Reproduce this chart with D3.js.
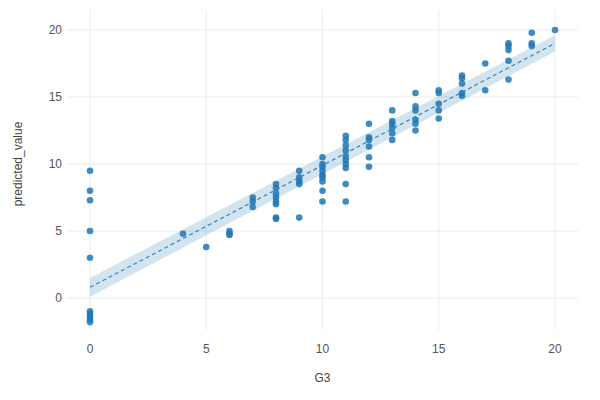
<!DOCTYPE html><html><head><script src="https://cdn.jsdelivr.net/npm/d3@7"></script>
<style>body{margin:0;background:#fff}text{font-family:"Helvetica Neue",Arial,"Liberation Sans",sans-serif}</style></head><body><svg id="c" width="600" height="400"></svg><script>
const xTicks=[0,5,10,15,20], yTicks=[0,5,10,15,20];
const groupsX=[0,4,5,6,7,8,9,10,11,12,13,14,15,16,17,18,19,20];
const groupsY=[[9.5,8,7.3,5,3,-1,-1.2,-1.4,-1.6,-1.8],[4.8],[3.8],[5,4.8,4.7],[7.5,7.2,6.8],[8.5,8.2,7.8,7.5,7.2,7.0,6.0,5.9],[9.5,9.0,8.7,8.5,6.0],[10.5,10,9.8,9.5,9.2,9.0,8.7,8.0,7.2],[12.1,11.8,11.4,11,10.6,10.3,10.0,9.7,8.5,7.2],[13,12,11.8,11.3,10.5,9.8],[14,13.2,13,12.7,12.3,11.8],[15.3,14.3,14.0,13.3,13.0,12.5],[15.5,15.3,14.5,14.0,13.4],[16.6,16.4,16,15.3,15.1],[17.5,15.5],[19,18.8,18.5,17.7,16.3],[19.8,19,18.8],[20]];
const fitX=[0,20], fitY=[0.8,19.0], bandHalf=[0.7,0.6];
const svg=d3.select("#c");
const x=d3.scaleLinear().domain([0,20]).range([90,555]);
const y=d3.scaleLinear().domain([0,20]).range([298,30]);
const g=svg.append("g");
g.selectAll(".vg").data(xTicks).join("line").attr("x1",d=>x(d)).attr("x2",d=>x(d)).attr("y1",10).attr("y2",330).attr("stroke","#ebebeb");
g.selectAll(".hg").data(yTicks).join("line").attr("y1",d=>y(d)).attr("y2",d=>y(d)).attr("x1",68).attr("x2",578).attr("stroke","#ebebeb");
g.selectAll(".xt").data(xTicks).join("text").attr("x",d=>x(d)).attr("y",353).attr("text-anchor","middle").attr("font-size",12).attr("fill","#555").text(d=>d);
g.selectAll(".yt").data(yTicks).join("text").attr("x",62).attr("y",d=>y(d)+4).attr("text-anchor","end").attr("font-size",12).attr("fill","#555").text(d=>d);
svg.append("text").attr("x",x(10)).attr("y",382).attr("text-anchor","middle").attr("font-size",12).attr("fill","#444").text("G3");
svg.append("text").attr("transform",`translate(22,${y(10)}) rotate(-90)`).attr("text-anchor","middle").attr("font-size",12).attr("fill","#444").text("predicted_value");
const band=[0,1].map(i=>({x:fitX[i],lo:fitY[i]-bandHalf[i],hi:fitY[i]+bandHalf[i]}));
svg.append("path").datum(band).attr("d",d3.area().x(d=>x(d.x)).y0(d=>y(d.lo)).y1(d=>y(d.hi))).attr("fill","#1f77b4").attr("opacity",0.2);
const pts=groupsX.flatMap((gx,i)=>groupsY[i].map(v=>({x:gx,y:v})));
svg.selectAll(".p").data(pts).join("circle").attr("cx",d=>x(d.x)).attr("cy",d=>y(d.y)).attr("r",3.3).attr("fill","#1f77b4").attr("opacity",0.85);
svg.append("path").datum([0,1]).attr("d",d3.line().x(i=>x(fitX[i])).y(i=>y(fitY[i]))).attr("stroke","#3b82b8").attr("stroke-width",1.2).attr("stroke-dasharray","4,3").attr("fill","none");
</script></body></html>
